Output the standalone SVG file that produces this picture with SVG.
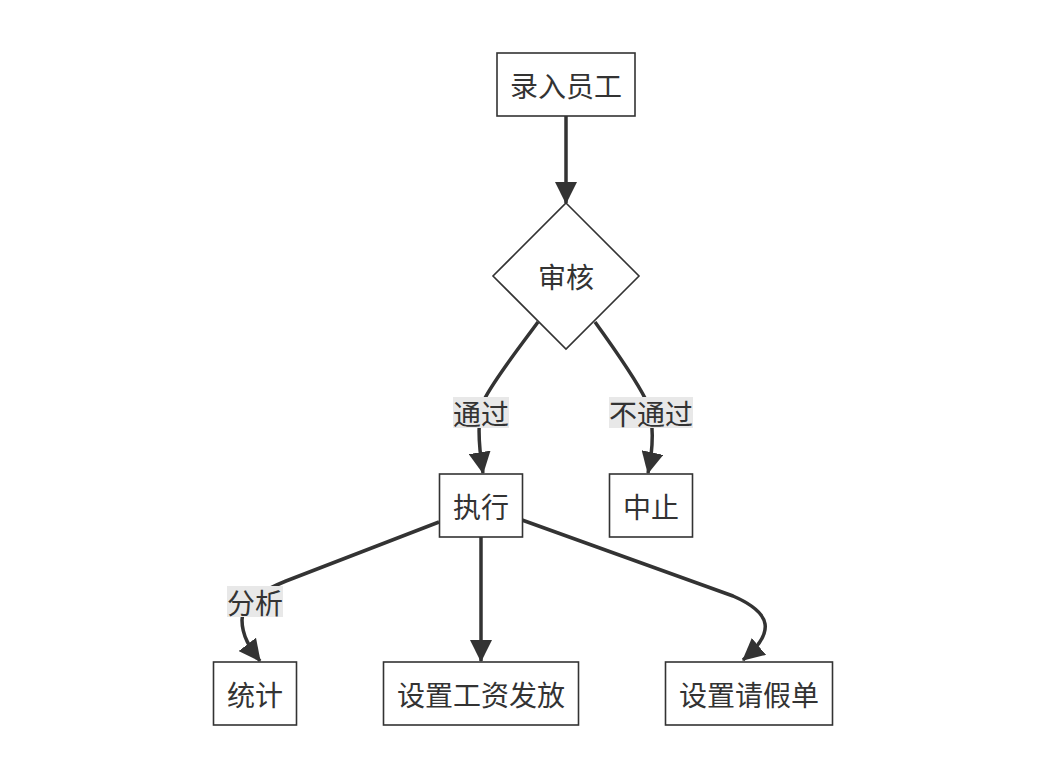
<svg xmlns="http://www.w3.org/2000/svg" width="1046" height="781" viewBox="0 0 1046 781">
<style>
.node rect,.node polygon{fill:#fff;stroke:#333;stroke-width:1.6}
text{font-family:"Noto Sans CJK SC","Microsoft YaHei",sans-serif;font-size:28px;fill:#333;text-anchor:middle;dominant-baseline:central}
.edge{fill:none;stroke:#333;stroke-width:3.5}
.lbl rect{fill:#e8e8e8}
</style>
<defs>
<marker id="ah" markerUnits="userSpaceOnUse" markerWidth="22" markerHeight="22" viewBox="0 0 20 20" refX="19" refY="10" orient="auto">
<path d="M0,0 L20,10 L0,20 z" fill="#333"/>
</marker>
</defs>
<rect width="1046" height="781" fill="#fff"/>
<g id="connectors">
<path class="edge" d="M566,116 L566,203" marker-end="url(#ah)"/>
<path class="edge" d="M538,322 C525,340 495,378 484,400 C477,416 478,442 483,473" marker-end="url(#ah)"/>
<path class="edge" d="M595,322 C608,340 635,378 646,400 C655,420 653,450 648,473" marker-end="url(#ah)"/>
<path class="edge" d="M439,522 L286,581 C256,593 242,605 242,620 C242,636 250,648 260,661" marker-end="url(#ah)"/>
<path class="edge" d="M481,537 L481,661" marker-end="url(#ah)"/>
<path class="edge" d="M522,520 L733,596 C772,613 776,632 743,660" marker-end="url(#ah)"/>
</g>
<g id="labels">
<g class="lbl" id="label-pass"><rect x="453" y="397" width="56" height="31"/><text x="481" y="412.5">通过</text></g>
<g class="lbl" id="label-fail"><rect x="609" y="397" width="84" height="31"/><text x="651" y="412.5">不通过</text></g>
<g class="lbl" id="label-analyze"><rect x="227" y="586" width="56" height="31"/><text x="255" y="601.5">分析</text></g>
</g>
<g class="node" id="n-entry"><rect x="497" y="53" width="138" height="63"/><text x="566" y="84.5">录入员工</text></g>
<g class="node" id="n-review"><polygon points="566,203 639,276 566,349 493,276"/><text x="566" y="276">审核</text></g>
<g class="node" id="n-exec"><rect x="439.5" y="474" width="83" height="63"/><text x="481" y="505.5">执行</text></g>
<g class="node" id="n-stop"><rect x="609.5" y="474" width="83" height="63"/><text x="651" y="505.5">中止</text></g>
<g class="node" id="n-stats"><rect x="213.5" y="662" width="83" height="63"/><text x="255" y="693.5">统计</text></g>
<g class="node" id="n-salary"><rect x="383.5" y="662" width="195" height="63"/><text x="481" y="693.5">设置工资发放</text></g>
<g class="node" id="n-leave"><rect x="665.5" y="662" width="167" height="63"/><text x="749" y="693.5">设置请假单</text></g>
</svg>
